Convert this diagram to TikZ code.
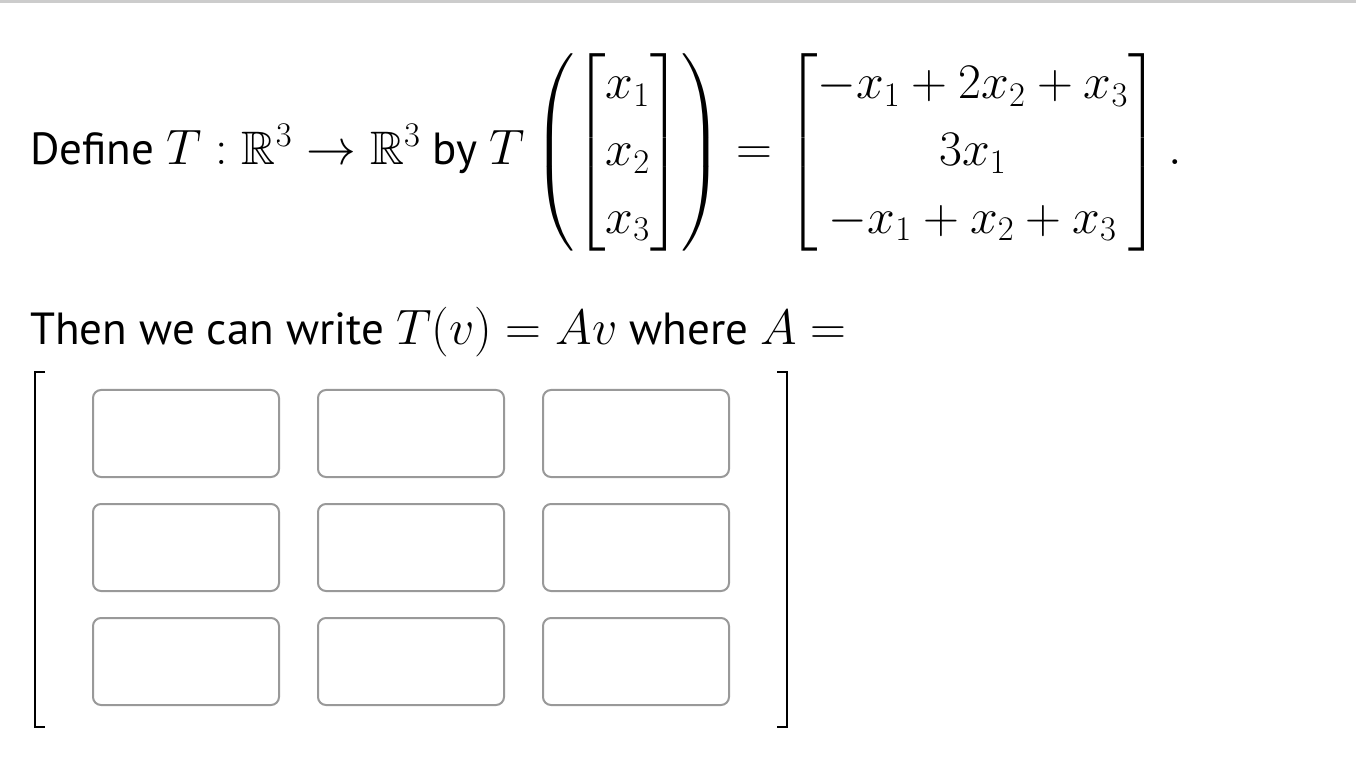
\documentclass[tikz,border=0pt]{standalone}
\usepackage{amsmath,amssymb}
\usepackage{fontspec}
\setmainfont{PT Sans}
\newcommand\mymath[1]{{\fontsize{23.5}{28}\selectfont$#1$}}
\tikzset{ansbox/.style={draw=black!40,line width=1pt,rounded corners=4pt,minimum width=93pt,minimum height=43.5pt,inner sep=0pt},
  bodytext/.style={anchor=base west,inner sep=0pt,font=\fontsize{22.5}{27}\selectfont}}
\begin{document}
\begin{tikzpicture}[x=0.5pt,y=-0.5pt]
\useasboundingbox (0,0) rectangle (1356,759);
\draw[black!20,line width=1.5pt] (0,2) -- (1356,2);
\node[bodytext] (def) at (30,165)
{Define \mymath{T:\mathbb{R}^3\to\mathbb{R}^3} by \mymath{T\left(\renewcommand\arraystretch{1.2}\begin{bmatrix}x_1\\x_2\\x_3\end{bmatrix}\right)=\renewcommand\arraystretch{1.2}\begin{bmatrix}-x_1+2x_2+x_3\\3x_1\\-x_1+x_2+x_3\end{bmatrix}.}};
\node[bodytext] (then) at (30,345)
{Then we can write \mymath{T(v)=Av} where \mymath{A=}};
\draw[line width=1.2pt] (45,372) -- (35,372) -- (35,727) -- (45,727);
\draw[line width=1.2pt] (777,372) -- (787,372) -- (787,727) -- (777,727);
\foreach \r/\y in {1/433.5,2/547.5,3/661.5}
  \foreach \c/\x in {1/186,2/411,3/636}
    \node[ansbox] (b\r\c) at (\x,\y) {};
\end{tikzpicture}
\end{document}
